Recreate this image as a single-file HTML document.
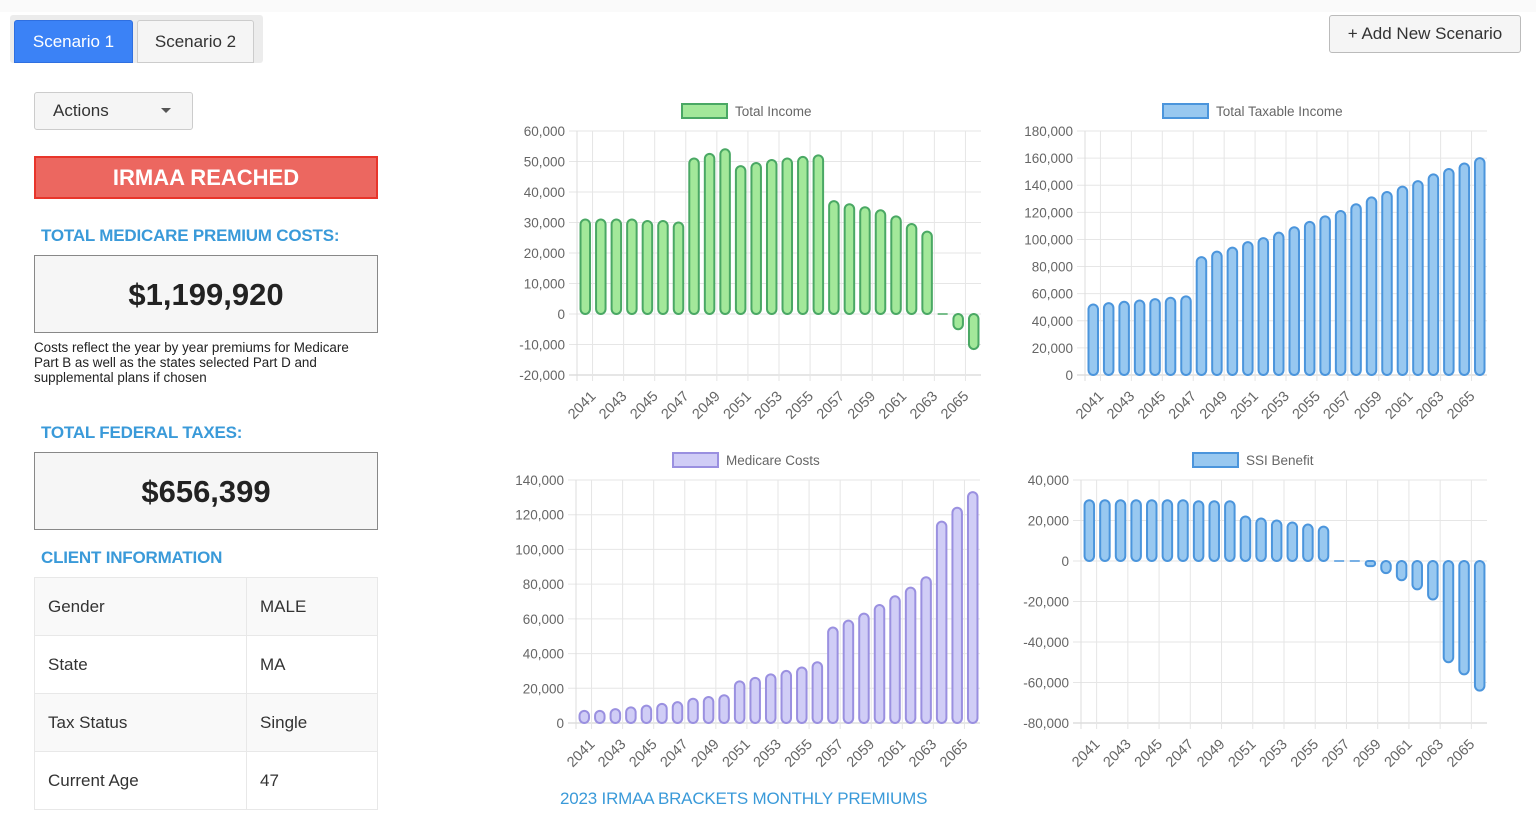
<!DOCTYPE html>
<html><head><meta charset="utf-8">
<style>
*{box-sizing:border-box;margin:0;padding:0}
body{width:1536px;height:821px;background:#fff;font-family:"Liberation Sans",sans-serif;position:relative;overflow:hidden;color:#333}
.abs{position:absolute}
.tabs{left:10px;top:15px;width:253px;height:48px;background:#ececec;border-radius:3px}
.tab{position:absolute;top:5px;height:43px;font-size:17px;line-height:41px;text-align:center;border-radius:3px 3px 0 0}
.blue{color:#3a9ad9;font-size:17px;font-weight:bold;letter-spacing:-0.2px}
.box{left:34px;width:344px;height:78px;border:1px solid #888;background:#f6f6f6;text-align:center;font-size:31px;font-weight:bold;line-height:78px;color:#222}
table{border-collapse:collapse;position:absolute;left:34px;top:577px;width:344px}
td{border:1px solid #e8e8e8;height:58px;padding-left:13px;font-size:17px;color:#333}
tr:nth-child(odd) td{background:#f9f9f9}
</style></head><body>
<div class="abs" style="left:0;top:0;width:1536px;height:12px;background:#fafafa"></div>
<div class="abs tabs">
 <div class="tab" style="left:4px;width:119px;background:#3b82f6;color:#fff;border:1px solid #2f6fe0">Scenario 1</div>
 <div class="tab" style="left:127px;width:117px;background:#f5f5f5;color:#333;border:1px solid #ccc">Scenario 2</div>
</div>
<div class="abs" style="left:1329px;top:15px;width:192px;height:38px;border:1px solid #bbb;border-radius:3px;background:#f5f5f5;font-size:17px;line-height:36px;text-align:center;color:#333">+ Add New Scenario</div>
<div class="abs" style="left:34px;top:92px;width:159px;height:38px;border:1px solid #ccc;border-radius:3px;background:#f5f5f5;font-size:17px;line-height:36px;padding-left:18px;color:#333">Actions<span style="position:absolute;left:126px;top:15px;width:0;height:0;border-left:5px solid transparent;border-right:5px solid transparent;border-top:5px solid #555"></span></div>
<div class="abs" style="left:34px;top:156px;width:344px;height:43px;background:#ec6760;border:2px solid #e8352b;color:#fff;font-size:22px;line-height:39px;text-align:center;font-weight:600">IRMAA REACHED</div>
<div class="abs blue" style="left:41px;top:226px">TOTAL MEDICARE PREMIUM COSTS:</div>
<div class="abs box" style="top:255px">$1,199,920</div>
<div class="abs" style="left:34px;top:340px;width:330px;font-size:13.4px;line-height:15px;color:#222">Costs reflect the year by year premiums for Medicare Part B as well as the states selected Part D and supplemental plans if chosen</div>
<div class="abs blue" style="left:41px;top:423px">TOTAL FEDERAL TAXES:</div>
<div class="abs box" style="top:452px">$656,399</div>
<div class="abs blue" style="left:41px;top:548px">CLIENT INFORMATION</div>
<table>
<tr><td style="width:212px">Gender</td><td>MALE</td></tr>
<tr><td>State</td><td>MA</td></tr>
<tr><td>Tax Status</td><td>Single</td></tr>
<tr><td>Current Age</td><td>47</td></tr>
</table>
<div class="abs blue" style="left:560px;top:789px;font-weight:normal;font-size:17px">2023 IRMAA BRACKETS MONTHLY PREMIUMS</div>
<svg class="abs" style="left:0;top:0" width="1536" height="821" id="s"></svg>
<script>
var s=document.getElementById('s'),h='';
function chart(o){
 var L=o.l,R=o.r,T=o.t,B=o.b,n=26,step=(R-L)/n;
 function Y(v){return T+(o.max-v)/(o.max-o.min)*(B-T);}
 for(var v=o.min;v<=o.max;v+=o.st){var y=Y(v);
  h+='<line x1="'+(L-8)+'" x2="'+R+'" y1="'+y+'" y2="'+y+'" stroke="'+(v==o.min?'#ccc':'#e6e6e6')+'"/>';
  h+='<text x="'+(L-12)+'" y="'+(y+5)+'" text-anchor="end" font-size="13.5" fill="#666">'+v.toLocaleString('en-US')+'</text>';}
 h+='<line x1="'+L+'" x2="'+L+'" y1="'+T+'" y2="'+(B+6)+'" stroke="#ddd"/>';
 for(var i=1;i<n;i+=2){var x=L+step*i;
  h+='<line x1="'+x+'" x2="'+x+'" y1="'+T+'" y2="'+(B+6)+'" stroke="#e6e6e6"/>';
  h+='<text transform="translate('+(x+4)+','+(B+22)+') rotate(-45)" text-anchor="end" font-size="14.5" fill="#666">'+(2041+i-1)+'</text>';}
 var z=Y(0);
 o.d.forEach(function(v,i){var cx=L+step*(i+0.5)+0.5,w=9.5,y1=Y(Math.max(v,0)),y2=Y(Math.min(v,0));
  if(Math.abs(y2-y1)<2){h+='<line x1="'+(cx-5)+'" x2="'+(cx+5)+'" y1="'+z+'" y2="'+z+'" stroke="'+o.sc+'" stroke-width="1.5"/>';return;}
  var r=Math.min(5,(y2-y1)/2);
  h+='<rect x="'+(cx-w/2)+'" y="'+y1+'" width="'+w+'" height="'+(y2-y1)+'" rx="'+r+'" fill="'+o.fc+'" stroke="'+o.sc+'" stroke-width="2"/>';});
 h+='<rect x="'+o.lx+'" y="'+o.ly+'" width="45" height="14" fill="'+o.fc+'" stroke="'+o.sc+'" stroke-width="2"/>';
 h+='<text x="'+(o.lx+53)+'" y="'+(o.ly+12)+'" font-size="13.5" fill="#666">'+o.name+'</text>';
}
chart({l:577,r:981,t:131,b:375,min:-20000,max:60000,st:10000,fc:'#a3e89a',sc:'#4aa864',lx:682,ly:104,name:'Total Income',
 d:[31,31,31,31,30.5,30.5,30,51,52.5,54,48.5,49.5,50.5,51,51.5,52,37,36,35,34,32,29.5,27,0,-5,-11.5].map(function(v){return v*1000})});
chart({l:1085,r:1487,t:131,b:375,min:0,max:180000,st:20000,fc:'#98c8f0',sc:'#4b95dc',lx:1163,ly:104,name:'Total Taxable Income',
 d:[52,53,54,55,56,57,58,87,91,94,98,101,105,109,113,117,121,126,131,135,139,143,148,152,156,160].map(function(v){return v*1000})});
chart({l:576,r:980,t:480,b:723,min:0,max:140000,st:20000,fc:'#d0cdf6',sc:'#9a90e0',lx:673,ly:453,name:'Medicare Costs',
 d:[7,7,8,9,10,11,12,14,15,16,24,26,28,30,32,35,55,59,63,68,73,78,84,116,124,133].map(function(v){return v*1000})});
chart({l:1081,r:1487,t:480,b:723,min:-80000,max:40000,st:20000,fc:'#98c8f0',sc:'#4b95dc',lx:1193,ly:453,name:'SSI Benefit',
 d:[30,30,30,30,30,30,30,29.5,29.5,29.5,22,21,20,19,18,17,0,0,-2.5,-6,-9.5,-14,-19,-50,-56,-64].map(function(v){return v*1000})});
s.innerHTML=h;
</script>
</body></html>
